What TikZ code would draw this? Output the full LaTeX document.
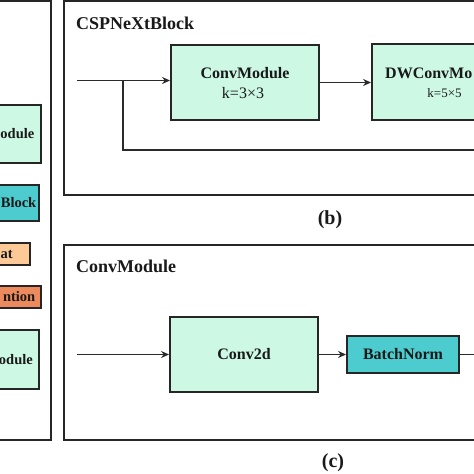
\documentclass[tikz,border=0pt]{standalone}
\usepackage{fontspec}
\setmainfont{Liberation Serif}
\usetikzlibrary{arrows.meta}
\definecolor{mint}{HTML}{CCF8E4}
\definecolor{tealc}{HTML}{4CCCCE}
\definecolor{peach}{HTML}{FDC996}
\definecolor{orangec}{HTML}{EC8A5E}
\definecolor{linec}{HTML}{2A2A2A}
\begin{document}
\begin{tikzpicture}[x=1pt,y=-1pt,
  panel/.style={draw=black!85,line width=2.4pt},
  blk/.style={draw=black!85,line width=1.9pt,inner sep=0pt},
  mintbox/.style={blk,fill=mint},
  tealbox/.style={blk,fill=tealc},
  peachbox/.style={blk,fill=peach},
  orangebox/.style={blk,fill=orangec},
  conn/.style={draw=linec,line width=1.3pt},
  arr/.style={conn,-{Stealth[length=8pt,width=7pt]}},
  btxt/.style={font=\fontsize{16}{20}\selectfont\bfseries,text=black!90,inner sep=0pt},
  ltxt/.style={font=\fontsize{14.5}{18}\selectfont\bfseries,text=black!90,inner sep=0pt,anchor=east},
  rtxt/.style={font=\fontsize{16}{20}\selectfont,text=black!90,inner sep=0pt},
  ttl/.style={font=\fontsize{18}{22}\selectfont\bfseries,text=black!90,inner sep=0pt,anchor=west},
  captxt/.style={font=\fontsize{20}{24}\selectfont\bfseries,text=black!90,inner sep=0pt}]
\useasboundingbox (0,0) rectangle (474,474);
% panels
\draw[panel] (-20,1) rectangle (51,440);
\draw[panel] (64,1) rectangle (500,195);
\draw[panel] (64,245) rectangle (500,440);
% left legend boxes
\draw[mintbox] (-40,105) rectangle (41,163);
\node[ltxt] (l1) at (34.5,134) {odule};
\draw[tealbox] (-40,185) rectangle (39,221);
\node[ltxt] (l2) at (36.5,203) {Block};
\draw[peachbox] (-40,243) rectangle (30,265);
\node[ltxt] (l3) at (13,254) {at};
\draw[orangebox] (-40,286) rectangle (41,308);
\node[ltxt] (l4) at (35.5,297) {ntion};
\draw[mintbox] (-40,330) rectangle (39,389);
\node[ltxt] (l5) at (33,360) {odule};
% panel (b)
\node[ttl] (tb) at (76,23) {CSPNeXtBlock};
\node[mintbox,minimum width=148pt,minimum height=75pt] (cm) at (245,82.5) {};
\node[btxt] (cmt) at (245,73) {ConvModule};
\node[rtxt] (cmk) at (243,93) {k=3×3};
\node[mintbox,minimum width=148pt,minimum height=76pt] (dw) at (446,82) {};
\node[btxt,anchor=west] (dwt) at (385,73) {DWConvMo};
\node[rtxt,font=\fontsize{13}{16}\selectfont] (dwk) at (444.5,93) {k=5×5};
\coordinate (inb) at (77,80.5);
\coordinate (brb) at (123,80.5);
\coordinate (brd) at (123,150);
\coordinate (bre) at (480,150);
\draw[arr] (inb) -- (inb -| cm.west);
\draw[conn] (brb) -- (brd) -- (bre);
\draw[arr] (cm.east) -- (dw.west |- cm.east);
\node[captxt] (capb) at (330,220) {(b)};
% panel (c)
\node[ttl] (tc) at (76,266) {ConvModule};
\node[mintbox,minimum width=148pt,minimum height=75pt] (c2d) at (244,354.5) {};
\node[btxt] (c2dt) at (c2d.center) {Conv2d};
\node[tealbox,minimum width=112pt,minimum height=37pt] (bn) at (403,354.5) {};
\node[btxt] (bnt) at (bn.center) {BatchNorm};
\coordinate (inc) at (77,354.5);
\coordinate (outc) at (480,354.5);
\draw[arr] (inc) -- (c2d.west);
\draw[arr] (c2d.east) -- (bn.west);
\draw[conn] (bn.east) -- (outc);
\node[captxt] (capc) at (333,463) {(c)};
\end{tikzpicture}
\end{document}
